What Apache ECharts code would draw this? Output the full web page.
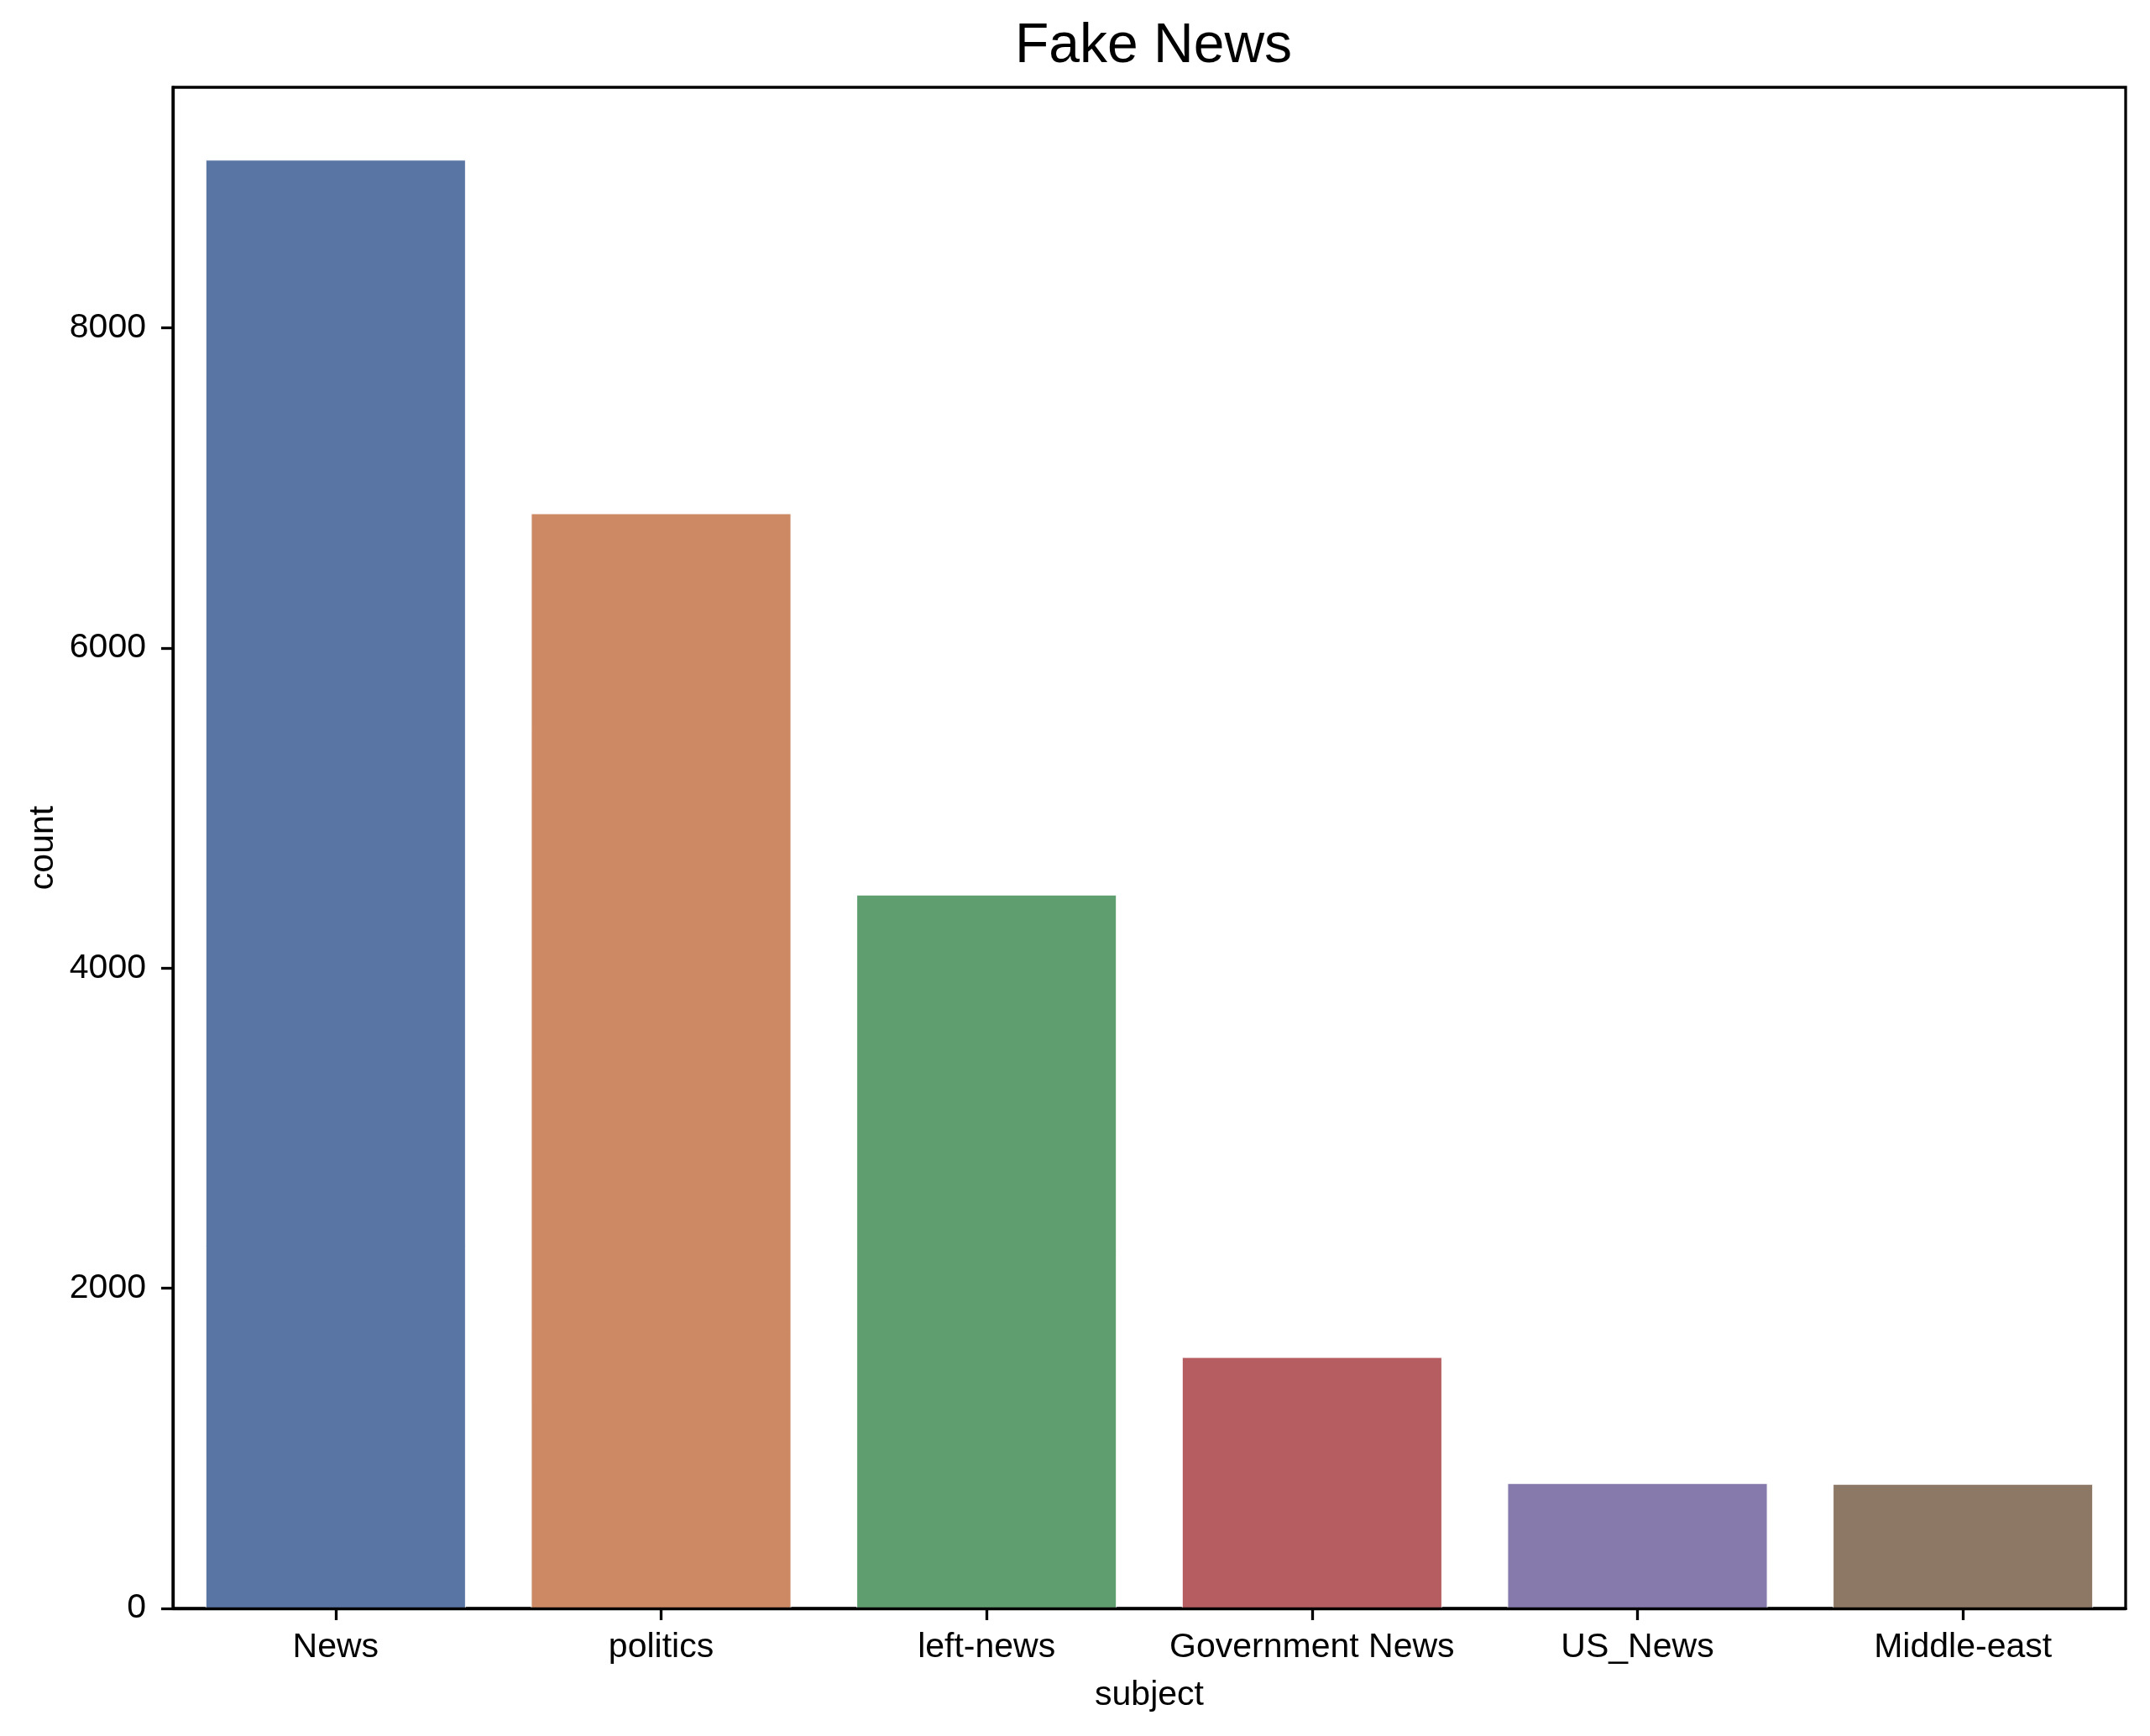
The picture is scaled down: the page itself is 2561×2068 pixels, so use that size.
<!DOCTYPE html>
<html>
<head>
<meta charset="utf-8">
<script src="https://cdn.jsdelivr.net/npm/echarts@6/dist/echarts.min.js"></script>
<style>
html,body{margin:0;padding:0;background:#fff;}
#chart{width:2561px;height:2068px;}
</style>
</head>
<body>
<div id="chart"></div>
<script>
const categories = ['News', 'politics', 'left-news', 'Government News', 'US_News', 'Middle-east'];
const counts = [9050, 6841, 4459, 1570, 783, 778];
const yTicks = [0, 2000, 4000, 6000, 8000];
const palette = ['#5875a4', '#cc8963', '#5f9e6e', '#b55d60', '#857aab', '#8d7866'];

const FONT = "'Liberation Sans', Arial, sans-serif";
const chart = echarts.init(document.getElementById('chart'), null, {renderer: 'canvas'});
chart.setOption({
  backgroundColor: '#ffffff',
  animation: false,
  title: {
    text: 'Fake News',
    left: 1369,
    top: 18,
    textAlign: 'center',
    textStyle: {fontFamily: FONT, fontSize: 66, fontWeight: 'normal', color: '#000'}
  },
  grid: {
    left: 206, right: 29, top: 104, bottom: 152,
    show: true, borderColor: '#000', borderWidth: 3.3, backgroundColor: 'transparent'
  },
  xAxis: {
    type: 'category',
    data: categories,
    z: 5,
    name: 'subject',
    nameLocation: 'middle',
    nameGap: 83,
    nameTextStyle: {fontFamily: FONT, fontSize: 41, color: '#000'},
    axisLine: {show: true, lineStyle: {color: '#000', width: 3.3}},
    axisTick: {show: true, alignWithLabel: true, interval: 0, length: 14, lineStyle: {color: '#000', width: 3.3}},
    axisLabel: {fontFamily: FONT, fontSize: 41, color: '#000', margin: 26, interval: 0},
    splitLine: {show: false}
  },
  yAxis: {
    type: 'value',
    min: 0,
    max: 9502.5,
    interval: 2000,
    z: 5,
    name: 'count',
    nameLocation: 'middle',
    nameGap: 128,
    nameTextStyle: {fontFamily: FONT, fontSize: 41, color: '#000'},
    axisLine: {show: true, lineStyle: {color: '#000', width: 3.3}},
    axisTick: {show: true, length: 14, lineStyle: {color: '#000', width: 3.3}, customValues: yTicks},
    axisLabel: {fontFamily: FONT, fontSize: 41, color: '#000', margin: 32, customValues: yTicks,
      formatter: v => String(v)},
    splitLine: {show: false}
  },
  series: [{
    type: 'bar',
    barCategoryGap: '20%',
    data: counts.map((v, i) => ({value: v, itemStyle: {color: palette[i % palette.length]}})),
    itemStyle: {borderColor: '#ffffff', borderWidth: 1}
  }]
});
</script>
</body>
</html>
